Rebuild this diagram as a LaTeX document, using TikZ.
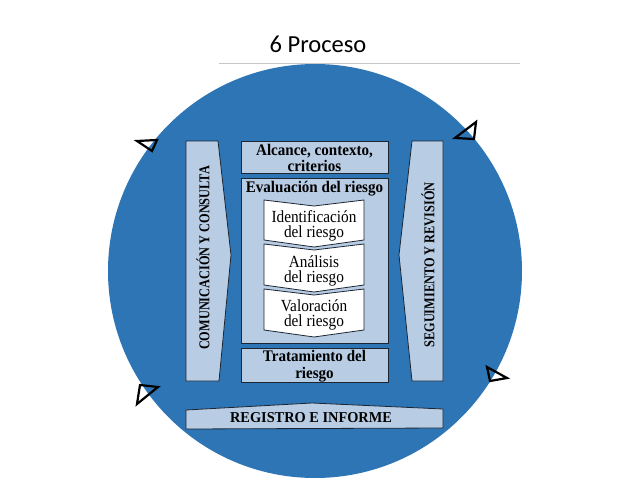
\documentclass[tikz,border=0pt]{standalone}
\usepackage{fontspec}
\setmainfont{Liberation Serif}
\newfontfamily\titlefont{Carlito}
\newfontfamily\vfont[FakeStretch=0.82]{Liberation Serif}
\newfontfamily\bfont[FakeStretch=0.93]{Liberation Serif}
\newfontfamily\rfont[FakeStretch=0.95]{Liberation Serif}
\newfontfamily\cfont[FakeStretch=0.9]{Liberation Serif}
\definecolor{circblue}{HTML}{2E75B6}
\definecolor{boxblue}{HTML}{B8CCE4}
\definecolor{edgecol}{HTML}{1C2633}
\tikzset{
  panel/.style={fill=boxblue, draw=edgecol, line width=0.8pt, line join=miter},
  chev/.style={fill=white, draw=edgecol, line width=0.8pt, line join=miter},
  marker/.style={draw=black, line width=2.2pt, line join=miter},
  boldtxt/.style={font=\bfont\bfseries\fontsize{16.2}{16.5}\selectfont, align=center, inner sep=0pt},
  vtxt/.style={font=\vfont\bfseries\fontsize{15}{16}\selectfont, rotate=90, inner sep=0pt},
  chevtxt/.style={font=\cfont\fontsize{17}{15.5}\selectfont, align=center, inner sep=0pt}
}
\begin{document}
\begin{tikzpicture}[x=1pt,y=-1pt]
\useasboundingbox (0,0) rectangle (638,479);
\fill[white] (0,0) rectangle (638,479);
% title
\node[font=\titlefont\fontsize{24.5}{28}\selectfont, inner sep=0pt] (title) at (318,44) {6 Proceso};
\coordinate (rulea) at (219,63);
\coordinate (ruleb) at (520,63);
\draw[black!22, line width=0.8pt] (rulea) -- (ruleb);
% circle
\fill[circblue] (315,271) circle[radius=207pt];
% markers
\draw[marker] (137,141) -- (157,140) -- (152,151) -- cycle;
\draw[marker] (455,138) -- (476,122) -- (474,139) -- cycle;
\draw[marker] (140,385) -- (158,387) -- (137,404) -- cycle;
\draw[marker] (487,367) -- (507,378) -- (490,381) -- cycle;
% left and right arrows
\draw[panel] (186,141) -- (218,141) -- (231,255) -- (219,381) -- (186,381) -- cycle;
\draw[panel] (412,141) -- (443,141) -- (443,381) -- (412,381) -- (399,255) -- cycle;
\node[vtxt] (com) at (203,258) {COMUNICACIÓN Y CONSULTA};
\node[vtxt] (seg) at (428,265) {SEGUIMIENTO Y REVISIÓN};
% central column
\draw[panel] (241,141) rectangle (388,173);
\node[boldtxt] (alc) at (314.5,158) {Alcance, contexto,\\criterios};
\draw[panel] (241,178) rectangle (388,343);
\node[boldtxt] (eval) at (314.5,189) {Evaluación del riesgo};
% chevrons
\draw[chev] (264,289) -- (314,295) -- (364,289) -- (364,330) -- (314,337) -- (264,330) -- cycle;
\draw[chev] (264,244) -- (314,250) -- (364,244) -- (364,285) -- (314,292) -- (264,285) -- cycle;
\draw[chev] (264,200) -- (314,206) -- (364,200) -- (364,240) -- (314,247) -- (264,240) -- cycle;
\node[chevtxt] (ident) at (314,226) {Identificación\\del riesgo};
\node[chevtxt] (anal) at (314,271) {Análisis\\del riesgo};
\node[chevtxt] (valo) at (314,315) {Valoración\\del riesgo};
\draw[panel] (241,348) rectangle (388,382);
\node[boldtxt] (trat) at (314.5,366) {Tratamiento del\\riesgo};
% registro
\draw[panel] (186,410) -- (312,403) -- (443,409) -- (443,428) -- (186,429) -- cycle;
\node[font=\rfont\bfseries\fontsize{15.1}{16}\selectfont, inner sep=0pt] (reg) at (311,418) {REGISTRO E INFORME};
\end{tikzpicture}
\end{document}
